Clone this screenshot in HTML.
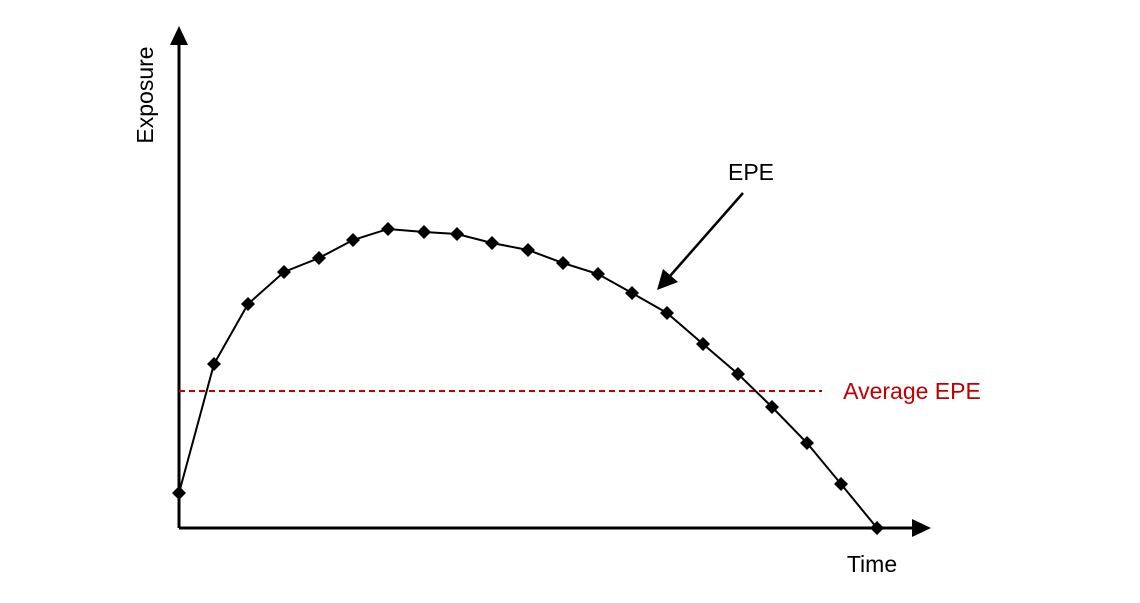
<!DOCTYPE html>
<html><head><style>body{margin:0;background:#fff}</style></head><body>
<svg width="1140" height="598" xmlns="http://www.w3.org/2000/svg" font-family="Liberation Sans, sans-serif">
<line x1="179" y1="528" x2="179" y2="40" stroke="#000" stroke-width="3"/>
<polygon points="179,26 170,45 188,45" fill="#000"/>
<line x1="179" y1="528" x2="915" y2="528" stroke="#000" stroke-width="3"/>
<polygon points="931,528 912,519 912,537" fill="#000"/>
<line x1="179" y1="391" x2="822" y2="391" stroke="#c00000" stroke-width="2" stroke-dasharray="6,4"/>
<polyline fill="none" stroke="#000" stroke-width="2" points="179,493 214,364 248,304 284,272 319,258 353,240 388,229 424,232 457,234 492,243 528,250 563,263 598,274 632,293 667,313 703,344 738,374 772,407 807,443 841,484 877,528"/>
<g fill="#000">
<path id="d" d="M0,-7 L7,0 L0,7 L-7,0Z" transform="translate(179,493)"/>
<path d="M0,-7 L7,0 L0,7 L-7,0Z" transform="translate(214,364)"/>
<path d="M0,-7 L7,0 L0,7 L-7,0Z" transform="translate(248,304)"/>
<path d="M0,-7 L7,0 L0,7 L-7,0Z" transform="translate(284,272)"/>
<path d="M0,-7 L7,0 L0,7 L-7,0Z" transform="translate(319,258)"/>
<path d="M0,-7 L7,0 L0,7 L-7,0Z" transform="translate(353,240)"/>
<path d="M0,-7 L7,0 L0,7 L-7,0Z" transform="translate(388,229)"/>
<path d="M0,-7 L7,0 L0,7 L-7,0Z" transform="translate(424,232)"/>
<path d="M0,-7 L7,0 L0,7 L-7,0Z" transform="translate(457,234)"/>
<path d="M0,-7 L7,0 L0,7 L-7,0Z" transform="translate(492,243)"/>
<path d="M0,-7 L7,0 L0,7 L-7,0Z" transform="translate(528,250)"/>
<path d="M0,-7 L7,0 L0,7 L-7,0Z" transform="translate(563,263)"/>
<path d="M0,-7 L7,0 L0,7 L-7,0Z" transform="translate(598,274)"/>
<path d="M0,-7 L7,0 L0,7 L-7,0Z" transform="translate(632,293)"/>
<path d="M0,-7 L7,0 L0,7 L-7,0Z" transform="translate(667,313)"/>
<path d="M0,-7 L7,0 L0,7 L-7,0Z" transform="translate(703,344)"/>
<path d="M0,-7 L7,0 L0,7 L-7,0Z" transform="translate(738,374)"/>
<path d="M0,-7 L7,0 L0,7 L-7,0Z" transform="translate(772,407)"/>
<path d="M0,-7 L7,0 L0,7 L-7,0Z" transform="translate(807,443)"/>
<path d="M0,-7 L7,0 L0,7 L-7,0Z" transform="translate(841,484)"/>
<path d="M0,-7 L7,0 L0,7 L-7,0Z" transform="translate(877,528)"/>
</g>
<line x1="743" y1="193" x2="670" y2="276" stroke="#000" stroke-width="2.5"/>
<polygon points="657,290 663,269 678,282" fill="#000"/>
<text x="751" y="180" font-size="23" text-anchor="middle">EPE</text>
<text x="912" y="399" font-size="23" fill="#c00000" text-anchor="middle">Average EPE</text>
<text x="872" y="572" font-size="23" text-anchor="middle">Time</text>
<text transform="translate(153,95) rotate(-90)" font-size="23" text-anchor="middle">Exposure</text>
</svg>
</body></html>
